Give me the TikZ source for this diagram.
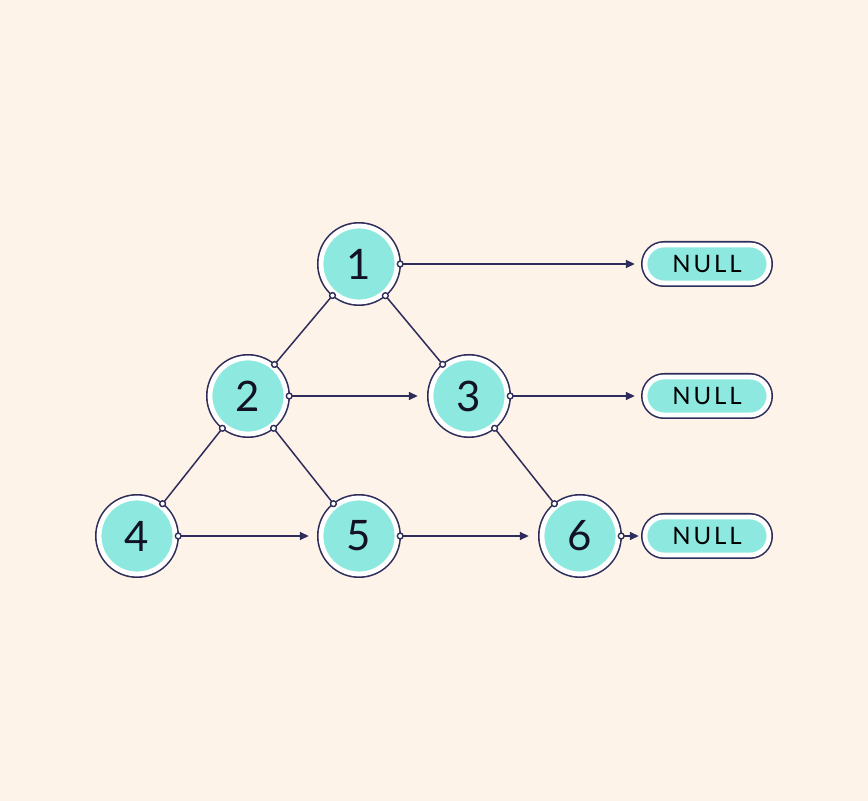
\documentclass[tikz,border=0pt]{standalone}
\usepackage{fontspec}
\setmainfont{Lato}
\newfontfamily\pillfont[LetterSpace=12]{Lato}
\usepackage{tikz}
\usetikzlibrary{arrows.meta,shapes.misc}
\definecolor{bgpeach}{HTML}{FDF3E8}
\definecolor{nodeteal}{HTML}{8DE9DF}
\definecolor{linenavy}{HTML}{2E2C5B}

\begin{document}
\begin{tikzpicture}[x=0.5pt,y=-0.5pt,>=Latex,
  treenode/.style={circle,minimum size=38pt,inner sep=0pt,outer sep=1.6pt,
    fill=nodeteal,draw=white,line width=2.4pt,
    preaction={draw=linenavy,line width=4pt},
    text=linenavy!40!black,font=\fontsize{21}{21}\selectfont},
  nullbox/.style={rounded rectangle,minimum width=62pt,minimum height=19pt,
    inner sep=0pt,outer sep=1.6pt,fill=nodeteal,draw=white,line width=2.4pt,
    preaction={draw=linenavy,line width=4pt},
    text=black,font=\pillfont\fontsize{12}{12}\selectfont},
  treeedge/.style={draw=linenavy,line width=0.75pt,
    {Circle[fill=white,length=3.6pt,line width=0.7pt]}-{Circle[fill=white,length=3.6pt,line width=0.7pt]},
    shorten <=-1.8pt,shorten >=-1.8pt},
  nextedge/.style={draw=linenavy,line width=0.75pt,
    {Circle[fill=white,length=3.6pt,line width=0.7pt]}-{Triangle[length=4.5pt,width=4pt]},
    shorten <=-1.8pt}]
\fill[bgpeach] (0,0) rectangle (868,801);
\useasboundingbox (0,0) rectangle (868,801);
% tree nodes
\node[treenode] (n1) at (359,264) {1};
\node[treenode] (n2) at (248,396) {2};
\node[treenode] (n3) at (469,396) {3};
\node[treenode] (n4) at (137,536) {4};
\node[treenode] (n5) at (359,536) {5};
\node[treenode] (n6) at (580,536) {6};
\node[nullbox] (null1) at (707,264) {NULL};
\node[nullbox] (null2) at (707,396) {NULL};
\node[nullbox] (null3) at (707,536) {NULL};
% parent-child links
\draw[treeedge] (n1) -- (n2);
\draw[treeedge] (n1) -- (n3);
\draw[treeedge] (n2) -- (n4);
\draw[treeedge] (n2) -- (n5);
\draw[treeedge] (n3) -- (n6);
% next pointers
\draw[nextedge,shorten >=3.5pt] (n1.east) -- (null1.west);
\draw[nextedge,shorten >=5pt] (n2.east) -- (n3.west);
\draw[nextedge,shorten >=3.5pt] (n3.east) -- (null2.west);
\draw[nextedge,shorten >=4.5pt] (n4.east) -- (n5.west);
\draw[nextedge,shorten >=5pt] (n5.east) -- (n6.west);
\draw[nextedge,shorten >=1.5pt] (n6.east) -- (null3.west);
\end{tikzpicture}
\end{document}
